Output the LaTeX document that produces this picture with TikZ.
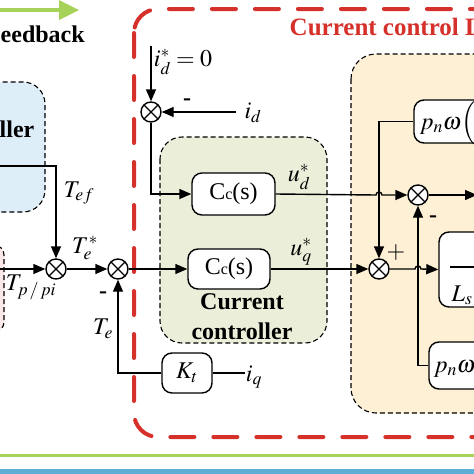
\documentclass[tikz,border=0pt]{standalone}
\usepackage{mathptmx}
\usepackage[no-math]{fontspec}
\setmainfont{Liberation Serif}
\usetikzlibrary{arrows.meta}
\definecolor{redc}{RGB}{214,48,42}
\definecolor{greenl}{RGB}{166,210,90}
\definecolor{bluel}{RGB}{92,174,214}
\definecolor{bluef}{RGB}{221,238,249}
\definecolor{pinkf}{RGB}{252,232,232}
\definecolor{greenf}{RGB}{235,239,218}
\definecolor{orangef}{RGB}{253,240,212}
\begin{document}
\begin{tikzpicture}[x=1pt,y=-1pt,line width=1.4pt,
  >={Triangle[length=12pt,width=10pt]},
  every node/.style={font=\fontsize{24}{28}\selectfont, inner sep=0pt},
  sumnode/.style={circle,draw,fill=white,minimum size=20pt,inner sep=0pt,
    path picture={\draw[line width=1.3pt]
      ([xshift=-7pt,yshift=-7pt]path picture bounding box.center) -- ([xshift=7pt,yshift=7pt]path picture bounding box.center)
      ([xshift=-7pt,yshift=7pt]path picture bounding box.center) -- ([xshift=7pt,yshift=-7pt]path picture bounding box.center);}},
  blk/.style={draw,fill=white,rounded corners=10pt,inner sep=0pt},
  dbox/.style={draw,line width=1.1pt,dash pattern=on 5pt off 3pt},
  redbox/.style={draw=redc,line width=4pt,dash pattern=on 24pt off 19pt,line cap=round},
  bld/.style={font=\fontsize{24}{26}\selectfont\bfseries},
]
\useasboundingbox (0,0) rectangle (474,474);
\clip (0,0) rectangle (474,474);

% background frames
\draw[redbox,rounded corners=24pt] (134,9) rectangle (580,437);
\draw[dbox,fill=bluef,rounded corners=22pt] (-60,82) rectangle (45,212);
\draw[dbox,fill=pinkf,rounded corners=10pt] (-60,245) rectangle (4,332);
\draw[dbox,fill=orangef,rounded corners=25pt] (351,54) rectangle (580,413);
\draw[dbox,fill=greenf,rounded corners=22pt] (160,137) rectangle (327,343);

% bottom lines and top arrow
\draw[greenl,line width=3pt] (0,455) -- (474,455);
\fill[bluel] (0,469) rectangle (474,476);
\draw[greenl,line width=4pt] (-5,10) -- (62,10);
\fill[greenl] (59,0) -- (79,10) -- (59,20) -- cycle;

% titles
\node[bld,anchor=base west] (fb) at (0,42) {eedback};
\node[bld,anchor=base west] (ctl) at (-1,137) {ller};
\node[bld,text=redc,anchor=base west,font=\fontsize{25}{27}\selectfont\bfseries] (ccl) at (289,35) {Current control L};
\node[bld,align=center] (cct1) at (242,302) {Current};
\node[bld,align=center] (cct2) at (242,331) {controller};

% sum nodes
\node[sumnode] (s1) at (56,269) {};
\node[sumnode] (s2) at (118,269) {};
\node[sumnode] (sd) at (151,112) {};
\node[sumnode] (s3) at (418,195) {};
\node[sumnode] (s4) at (379,269) {};

% blocks
\node[blk,minimum width=83pt,minimum height=42pt] (ccd) at (233.5,194) {C{\fontsize{16}{16}\selectfont c}(s)};
\node[blk,minimum width=82pt,minimum height=40pt] (ccq) at (229,269) {C{\fontsize{16}{16}\selectfont c}(s)};
\node[blk,minimum width=50pt,minimum height=40pt] (kt) at (187,373) {$K_t$};
\node[blk,minimum width=110pt,minimum height=43pt] (pw1) at (469,121.5) {};
\node[anchor=base west] (pw1t) at (419,129) {$p_n\omega\Big($};
\node[blk,minimum width=95pt,minimum height=47pt] (pw2) at (476.5,365.5) {};
\node[anchor=base west] (pw2t) at (433,372) {$p_n\omega$};
\node[blk,minimum width=85pt,minimum height=75pt] (ls) at (481.5,269.5) {};
\coordinate (lsb1) at (450,267);
\coordinate (lsb2) at (490,267);
\draw[line width=1.2pt] (lsb1) -- (lsb2);
\node[anchor=base west] (lst) at (451,301) {$L_s$};

% coordinates of free ends
\coordinate (tefin) at (-10,166);
\coordinate (tpin) at (-10,269);
\coordinate (idsin) at (151,46);
\coordinate (idin) at (236,112);
\coordinate (iqin) at (245,373);
\coordinate (out3) at (477,195);

% labels
\node (tef) at (79,193) {$T_{ef}$};
\node (tes) at (85,248) {$T_e^*$};
\node (tp) at (31,287) {$T_{p\,/\,pi}$};
\node[bld] (m2) at (103,295) {-};
\node (te) at (103,329) {$T_e$};
\node (ids) at (183,62) {$i_d^*=0$};
\node[bld] (md) at (187,102) {-};
\node (id) at (253,113) {$i_d$};
\node (uds) at (299,177) {$u_d^*$};
\node (uqs) at (301,252) {$u_q^*$};
\node (pl) at (396,253) {$+$};
\node[bld] (m3) at (433,219) {-};
\node (iq) at (254,377) {$i_q$};

% connectors
\draw[->] (tefin) -| (s1.north);
\draw[->] (tpin) -- (s1.west);
\draw[->] (s1.east) -- (s2.west);
\draw[->] (s2.east) -- (ccq.west);
\draw[->] (kt.west) -| (s2.south);
\draw (kt.east) -- (iqin);
\draw[->] (idsin) -- (sd.north);
\draw[->] (idin) -- (sd.east);
\draw[->] (sd.south) |- (ccd.west);
\draw[->] (ccd.east) -- (376,195) arc[start angle=180,end angle=360,radius=3] -- (s3.west);
\draw[->] (s3.east) -- (out3);
\draw[->] (pw1.west) -| (s4.north);
\draw[->] (ccq.east) -- (s4.west);
\draw[->] (s4.east) -- (415,269) arc[start angle=180,end angle=360,radius=3] -- (ls.west);
\draw[->] (pw2.west) -| (s3.south);
\end{tikzpicture}
\end{document}
